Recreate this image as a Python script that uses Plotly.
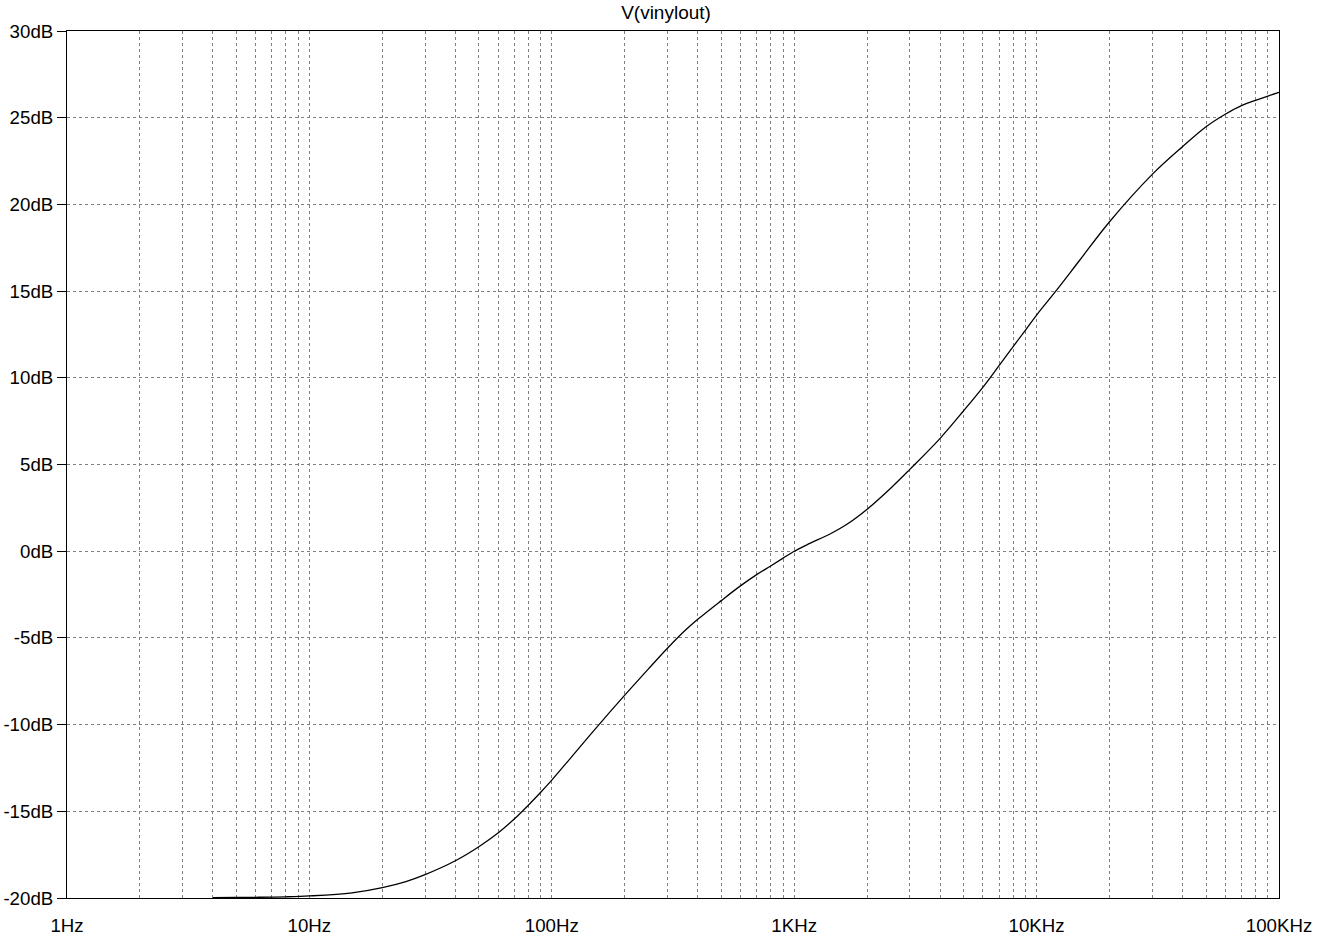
import plotly.graph_objects as go

# frequency response
freq_hz = [4, 5, 6, 8, 10, 15, 20, 25, 30, 40, 50, 60, 70, 80, 90,
           100, 120, 150, 200, 250, 300, 350, 400, 500, 600, 700, 800, 900,
           1000, 1160, 1400, 1650, 2000, 2500, 3000, 4000, 5000, 6000, 7000,
           8000, 9000, 10000, 12000, 15000, 20000, 30000, 40000, 50000,
           60000, 70000, 80000, 90000, 100000]
gain_db = [-19.98, -19.97, -19.96, -19.93, -19.88, -19.7, -19.4, -19.05,
           -18.65, -17.85, -17.04, -16.25, -15.45, -14.65, -13.9,
           -13.2, -11.9, -10.3, -8.3, -6.8, -5.6, -4.65, -3.93, -2.85,
           -2.0, -1.35, -0.85, -0.4,
           0.0, 0.45, 0.98, 1.55, 2.42, 3.63, 4.72, 6.51, 8.1, 9.45, 10.7,
           11.8, 12.75, 13.62, 15.0, 16.75, 19.0, 21.73, 23.33, 24.48,
           25.2, 25.7, 26.0, 26.25, 26.46]

x_tickvals = [1, 10, 100, 1000, 10000, 100000]
x_ticktext = ["1Hz", "10Hz", "100Hz", "1KHz", "10KHz", "100KHz"]
y_tickvals = [-20, -15, -10, -5, 0, 5, 10, 15, 20, 25, 30]
y_ticktext = ["%ddB" % v for v in y_tickvals]

# 2..9 gridlines inside each decade
minor_vals = [m * d for d in x_tickvals[:-1] for m in range(2, 10)]

grid_color = "#808080"
font = dict(family="Liberation Sans, Arial, sans-serif", size=18.7,
            color="black")

W, H = 1332, 937

fig = go.Figure()
fig.add_trace(go.Scatter(
    x=freq_hz, y=gain_db, mode="lines",
    line=dict(color="black", width=1.3, shape="spline", smoothing=1.0),
    showlegend=False, hoverinfo="x+y"))

fig.update_layout(
    width=W, height=H,
    margin=dict(l=67, r=53, t=31, b=39),
    paper_bgcolor="white", plot_bgcolor="white",
    font=font,
    title=dict(text="V(vinylout)", x=0.5, xanchor="center",
               yref="container", y=1 - 12.5 / H, yanchor="middle",
               font=dict(family=font["family"], size=19, color="black")),
)

fig.update_xaxes(
    type="log", range=[0, 5], automargin=False,
    tickmode="array", tickvals=x_tickvals, ticktext=x_ticktext,
    ticks="", ticklabelstandoff=11,
    showline=True, linecolor="black", linewidth=1, mirror=True,
    showgrid=True, gridcolor=grid_color, griddash="3px,3px", gridwidth=1,
    minor=dict(tickmode="array", tickvals=minor_vals, showgrid=True,
               gridcolor=grid_color, griddash="3px,3px", gridwidth=1,
               ticks=""),
    zeroline=False, tickfont=font,
)

fig.update_yaxes(
    range=[-20, 30], automargin=False,
    tickmode="array", tickvals=y_tickvals, ticktext=y_ticktext,
    ticks="outside", ticklen=9, tickcolor="black", tickwidth=1,
    showline=True, linecolor="black", linewidth=1, mirror=True,
    showgrid=True, gridcolor=grid_color, griddash="3px,3px", gridwidth=1,
    zeroline=False, tickfont=font,
)

# drop the browser's default 8px body margin so the figure fills the window
fig.write_html("out.html", config={"displayModeBar": False},
               post_script="document.body.style.margin = '0';")
